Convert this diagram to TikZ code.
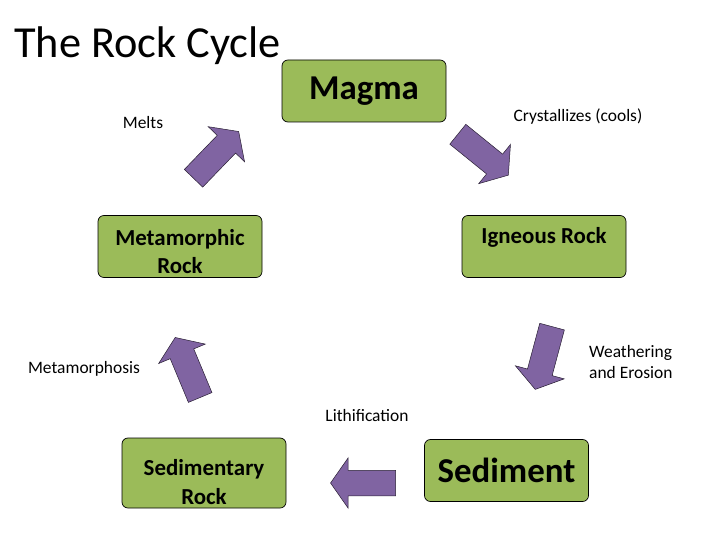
\documentclass[tikz,border=0pt]{standalone}
\usepackage{fontspec}
\setmainfont{Carlito}
\usepackage{xcolor}
\definecolor{rkGreen} {RGB}{155, 187,  89}
\definecolor{rkPurple}{RGB}{128, 100, 162}
\definecolor{rkEdge}  {RGB}{ 40,  30,  50}
\usepackage{tikz}
\usetikzlibrary{
  shapes.arrows,
}

\begin{document}
\begin{tikzpicture}[
  x=1bp, y=-1bp,
  rock/.style ={draw=black, line width=0.7pt, rounded corners=6pt,
                fill=rkGreen, text=black, inner sep=2pt,
                minimum width=164bp, minimum height=62bp,
                align=center, font=\fontsize{35}{40}\selectfont\bfseries},
  rocktxt/.style={text=black, inner sep=0pt, align=center,
                font=\fontsize{23}{29}\selectfont\bfseries},
  flow/.style ={single arrow, draw=rkEdge, line width=0.5pt, fill=rkPurple,
                inner xsep=0pt, inner ysep=12.5bp, text width=0pt,
                minimum height=65bp, minimum width=20bp,
                single arrow head extend=12.5bp, single arrow tip angle=110},
  note/.style ={font=\fontsize{17.5}{22}\selectfont, text=black, inner sep=0pt},
]
  \useasboundingbox (0,0) rectangle (720,540);

  % Title
  \node[font=\fontsize{44.5}{50}\selectfont, anchor=west, inner sep=0pt]
    (title) at (14,46) {The Rock Cycle};

  % Rock boxes, clockwise from the top
  \node[rock] (magma) at (364,91)      {Magma};
  \node[rock] (ign)   at (544,246.5)   {};
  \node[rock] (sed)   at (506.5,470.5) {Sediment};
  \node[rock, minimum height=70bp]
              (sedr)  at (204,473)     {};
  \node[rock] (meta)  at (180,246.5)   {};

  % Box texts sit a little below the middle
  \node[rocktxt] (ignT)  at (544,237.5) {Igneous Rock};
  \node[rocktxt] (sedrT) at (204,482)   {Sedimentary\\Rock};
  \node[rocktxt] (metaT) at (180,251.5) {Metamorphic\\Rock};

  % Block arrows between the boxes
  \node[flow, rotate=-39]  (aCryst) at (479.6,151.9) {};
  \node[flow, rotate=-105] (aWeath) at (544.8,353.7) {};
  \node[flow, rotate=180]  (aLith)  at (367.5,483) {};
  \node[flow, rotate=112.6](aMeta)  at (189.4,371.6) {};
  \node[flow, rotate=46]   (aMelt)  at (213,158.1) {};

  % Process labels
  \node[note] (lCryst) at (578,117) {Crystallizes (cools)};
  \node[note, anchor=west, align=left]
              (lWeath) at (589,362) {Weathering\\and Erosion};
  \node[note] (lLith)  at (367,416) {Lithification};
  \node[note] (lMeta)  at (84,369)  {Metamorphosis};
  \node[note] (lMelt)  at (143,123) {Melts};
\end{tikzpicture}
\end{document}
